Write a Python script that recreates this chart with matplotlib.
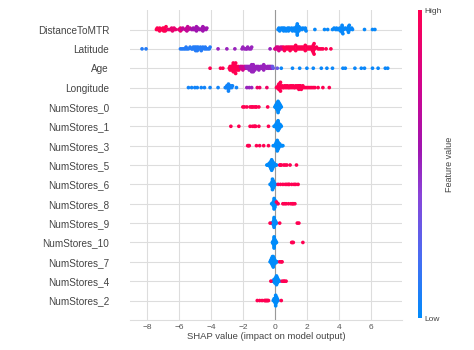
import numpy as np
import matplotlib
matplotlib.use("Agg")
import matplotlib.pyplot as plt
from matplotlib.colors import LinearSegmentedColormap

plt.rcParams["font.family"] = ["Liberation Sans", "DejaVu Sans"]

# feature order, top to bottom
FEATURES = [
    "DistanceToMTR", "Latitude", "Age", "Longitude",
    "NumStores_0", "NumStores_1", "NumStores_3", "NumStores_5",
    "NumStores_6", "NumStores_8", "NumStores_9", "NumStores_10",
    "NumStores_7", "NumStores_4", "NumStores_2",
]

# continuous features: groups of (feature value 0..1, shap values)
DIST_GROUPS = [
    (1.0, [-7.4, -7.35, -7.3, -7.2, -7.2, -7.1, -7.05, -7.0, -6.95, -6.9, -6.9, -6.85, -6.8]),
    (0.88, [-6.7, -6.6, -6.5, -6.45, -6.4, -6.3, -6.3, -6.2, -6.0, -5.95, -5.9, -5.9]),
    (0.7, [-5.8, -5.75, -5.6, -5.55, -5.5, -5.5, -5.45, -5.4, -5.3]),
    (0.55, [-5.2, -5.1, -5.1, -5.0, -4.95, -4.9, -4.9, -4.85, -4.8, -4.7, -4.6, -4.55,
            -4.5, -4.5, -4.45, -4.4, -4.3, -4.25]),
    (0.02, [0.2, 0.25, 0.3, 0.35, 0.4, 0.45, 0.5, 0.55, 0.6, 0.6, 0.7, 0.75, 0.8, 0.85, 0.9,
            0.9, 1.0, 1.05, 1.1, 1.15, 1.2, 1.25, 1.3, 1.3, 1.35, 1.35, 1.4, 1.4, 1.4, 1.4,
            1.4, 1.45, 1.45, 1.5, 1.5, 1.55, 1.6, 1.7, 1.75, 1.9, 1.9, 1.95, 2.5, 3.1, 3.3,
            3.6, 3.7, 3.8, 3.85, 3.9, 4.0, 4.05, 4.1, 4.15, 4.2, 4.2, 4.2, 4.2, 4.2, 4.25,
            4.3, 4.4, 4.5, 4.55, 4.6, 4.6, 4.6, 4.6, 4.65, 4.7, 4.8, 4.85, 5.6, 6.1, 6.25]),
]

LAT_GROUPS = [
    (0.1, [-8.3, -8.05, -5.9, -5.8, -5.7, -5.6, -5.55, -5.5, -5.4, -5.3, -5.2, -5.15,
           -5.1, -5.05, -5.0, -4.95, -4.9, -4.9, -4.85, -4.8, -4.8, -4.7, -4.65, -4.6,
           -4.55, -4.5, -4.4, -4.35, -4.3, -4.2, -4.1, -4.05]),
    (0.5, [-3.55, -3.0, -2.5, -2.05, -2.0, -1.9, -1.8, -1.75, -1.7, -1.6, -1.5, -1.45, -0.3]),
    (0.8, [0.0, 0.05, 0.1, 0.15, 0.2, 0.25, 0.3, 0.35, 0.4, 0.45, 0.5]),
    (1.0, [0.55, 0.6, 0.65, 0.7, 0.75, 0.8, 0.85, 0.9, 0.95, 1.0, 1.0, 1.1, 1.1, 1.2, 1.2,
           1.3, 1.3, 1.4, 1.4, 1.5, 1.5, 1.6, 1.6, 1.7, 1.7, 1.8, 1.8, 1.9, 1.9, 2.0, 2.0,
           2.1, 2.1, 2.2, 2.2, 2.3, 2.3, 2.35, 2.4, 2.4, 2.4, 2.4, 2.4, 2.45, 2.45, 2.5,
           2.6, 2.7, 2.8, 2.9, 3.0, 3.2, 3.5]),
]

AGE_GROUPS = [
    (1.0, [-4.05, -3.4, -3.25, -2.85, -2.8, -2.8, -2.75, -2.7, -2.7, -2.65, -2.65, -2.6,
           -2.6, -2.6, -2.6, -2.55, -2.55, -2.5, -2.5, -2.5, -2.45, -2.45, -2.4, -2.4,
           -2.35, -2.3, -2.3, -2.25, -2.2]),
    (0.75, [-2.15, -2.1, -2.05, -2.0, -1.95, -1.9, -1.85]),
    (0.5, [-1.8, -1.75, -1.7, -1.65, -1.6, -1.6, -1.55, -1.5, -1.5, -1.45, -1.45, -1.4,
           -1.4, -1.4, -1.35, -1.35, -1.3, -1.3, -1.25, -1.2, -1.15, -1.1, -1.05, -1.0,
           -0.95, -0.9, -0.85, -0.8, -0.75, -0.75, -0.7, -0.7, -0.65, -0.6, -0.5, -0.45,
           -0.4, -0.35, -0.3, -0.25, -0.2]),
    (0.3, [-0.15, -0.1, 0.15]),
    (0.03, [0.4, 1.1, 1.55, 2.0, 2.4, 2.9, 3.25, 3.6, 4.25, 4.4, 5.0, 5.4, 5.6, 6.1, 6.45,
            6.9, 7.05]),
]

LON_GROUPS = [
    (0.05, [-5.4, -5.2, -5.0, -4.85, -4.6, -4.4, -4.05, -3.55, -3.1, -3.05, -3.0, -2.95,
            -2.95, -2.9, -2.9, -2.9, -2.85, -2.85, -2.8, -2.75, -2.7, -2.65, -2.4]),
    (0.5, [-1.75, -1.6, -1.45]),
    (0.92, [-1.1, -0.95, -0.5]),
    (1.0, [0.1, 0.15, 0.2, 0.2, 0.25, 0.25, 0.3, 0.3, 0.3, 0.3, 0.35, 0.35, 0.4, 0.45, 0.5,
           0.55, 0.6, 0.65, 0.7, 0.75, 0.8, 0.85, 0.9, 0.95, 1.0, 1.05, 1.1, 1.15, 1.2,
           1.25, 1.3, 1.35, 1.4, 1.45, 1.5, 1.5, 1.55, 1.55, 1.6, 1.6, 1.65, 1.7, 1.75,
           1.8, 1.9, 2.0, 2.1, 2.2, 2.3, 2.4, 2.5, 2.7, 3.0, 3.4]),
]

# one-hot features: shap values for rows where the flag is 0 (low) and 1 (high)
NUMSTORES_LOW = {
    "NumStores_0": [0.0, 0.05, 0.05, 0.1, 0.1, 0.1, 0.1, 0.15, 0.15, 0.15, 0.15, 0.15, 0.15,
                    0.2, 0.2, 0.2, 0.2, 0.2, 0.2, 0.2, 0.2, 0.2, 0.25, 0.25, 0.25, 0.25,
                    0.25, 0.25, 0.3, 0.3, 0.3, 0.3, 0.35, 0.35, 0.4],
    "NumStores_1": [-0.05, 0.0, 0.05, 0.05, 0.1, 0.1, 0.1, 0.1, 0.15, 0.15, 0.15, 0.15, 0.15,
                    0.15, 0.2, 0.2, 0.2, 0.2, 0.2, 0.2, 0.2, 0.2, 0.25, 0.25, 0.25, 0.25,
                    0.25, 0.3, 0.3, 0.3, 0.35, 0.35, 0.4],
    "NumStores_3": [-0.1, 0.0, 0.05, 0.05, 0.1, 0.1, 0.1, 0.1, 0.15, 0.15, 0.15, 0.15, 0.15,
                    0.15, 0.15, 0.2, 0.2, 0.2, 0.2, 0.2, 0.25, 0.25, 0.25, 0.3, 0.3, 0.35,
                    0.4, 0.45, 0.5],
    "NumStores_5": [-0.5, -0.45, -0.4, -0.35, -0.35, -0.3, -0.3, -0.3, -0.25, -0.25, -0.25,
                    -0.25, -0.25, -0.2, -0.2, -0.2, -0.2, -0.2, -0.2, -0.2, -0.15, -0.15,
                    -0.15, -0.15, -0.15, -0.1, -0.1, -0.1, -0.05, -0.05, 0.0, 0.05, 0.1],
    "NumStores_6": [-0.3, -0.25, -0.2, -0.2, -0.2, -0.15, -0.15, -0.15, -0.15, -0.15, -0.15,
                    -0.15, -0.1, -0.1, -0.1, -0.1, -0.1, -0.05, -0.05, -0.05, 0.0, 0.05],
    "NumStores_8": [-0.2, -0.15, -0.1, -0.1, -0.1, -0.05, -0.05, -0.05, -0.05, -0.05, -0.05,
                    -0.05, 0.0, 0.0, 0.0, 0.0, 0.0, 0.05, 0.05, 0.1],
    "NumStores_9": [-0.2, -0.15, -0.1, -0.1, -0.1, -0.05, -0.05, -0.05, -0.05, -0.05,
                    -0.05, -0.05, -0.05, 0.0, 0.0, 0.0, 0.0, 0.05, 0.05, 0.1],
    "NumStores_10": [-0.15, -0.1, -0.1, -0.1, -0.05, -0.05, -0.05, -0.05, -0.05, -0.05,
                     -0.05, -0.05, -0.05, 0.0, 0.0, 0.0, 0.0, 0.05, 0.05, 0.1],
    "NumStores_7": [-0.3, -0.25, -0.25, -0.2, -0.2, -0.2, -0.2, -0.15, -0.15, -0.15, -0.15,
                    -0.15, -0.15, -0.1, -0.1, -0.1, -0.1, -0.1, -0.1, -0.1, -0.05, -0.05,
                    -0.05, -0.05, 0.0, 0.0, 0.0, 0.05, 0.1, 0.15],
    "NumStores_4": [-0.15, -0.1, -0.05, -0.05, 0.0, 0.0, 0.0, 0.05, 0.05, 0.05, 0.05, 0.1,
                    0.1, 0.1, 0.1, 0.1, 0.1, 0.15, 0.15, 0.15, 0.15, 0.2, 0.2, 0.25, 0.3],
    "NumStores_2": [-0.1, -0.05, -0.05, 0.0, 0.0, 0.0, 0.05, 0.05, 0.05, 0.05, 0.05, 0.05,
                    0.05, 0.1, 0.1, 0.1, 0.1, 0.15, 0.15, 0.2],
}
NUMSTORES_HIGH = {
    "NumStores_0": [-2.0, -1.9, -1.75, -1.55, -1.45, -1.4, -1.3, -1.2, -1.15, -1.0, -0.45],
    "NumStores_1": [-2.75, -2.25, -1.55, -1.4, -1.3, -1.25, -1.2, -1.0, -0.4],
    "NumStores_3": [-1.7, -1.65, -1.6, -1.15, -0.95, -0.7, -0.4],
    "NumStores_5": [0.3, 0.35, 0.4, 0.55, 0.65, 0.75, 0.95, 1.35],
    "NumStores_6": [0.2, 0.35, 0.5, 0.65, 0.75, 0.85, 0.9, 1.05, 1.2, 1.3, 1.45],
    "NumStores_8": [0.1, 0.2, 0.5, 0.6, 0.7, 0.85, 1.0, 1.1, 1.15, 1.25],
    "NumStores_9": [-0.3, 0.3, 1.4, 1.5],
    "NumStores_10": [1.05, 1.1, 1.15, 1.75],
    "NumStores_7": [0.3, 0.4, 0.45],
    "NumStores_4": [-0.25, 0.45, 0.55, 0.6, 0.7],
    "NumStores_2": [-1.1, -0.95, -0.8, -0.65, -0.6, -0.55, -0.5, -0.45, -0.4, 0.4],
}

CONTINUOUS = {
    "DistanceToMTR": DIST_GROUPS,
    "Latitude": LAT_GROUPS,
    "Age": AGE_GROUPS,
    "Longitude": LON_GROUPS,
}

CMAP = LinearSegmentedColormap.from_list("red_blue", [
    (0.0, "#008bfb"), (0.2, "#4a6cf2"), (0.4, "#8a44d8"), (0.55, "#a014b0"),
    (0.75, "#d0048f"), (1.0, "#ff0052")])


def beeswarm_offsets(shaps, row_height=0.4, nbins=100):
    shaps = np.asarray(shaps, dtype=float)
    quant = np.round(nbins * (shaps - shaps.min()) / (shaps.max() - shaps.min() + 1e-8))
    inds = np.argsort(quant, kind="mergesort")
    layer = 0
    last_bin = -1
    ys = np.zeros(len(shaps))
    for ind in inds:
        if quant[ind] != last_bin:
            layer = 0
        ys[ind] = np.ceil(layer / 2) * ((layer % 2) * 2 - 1)
        layer += 1
        last_bin = quant[ind]
    ys *= 0.9 * (row_height / np.max(ys + 1))
    return ys


def row_data(name):
    shaps, fvals = [], []
    if name in CONTINUOUS:
        for fv, vals in CONTINUOUS[name]:
            shaps += vals
            fvals += [fv] * len(vals)
    else:
        low = NUMSTORES_LOW[name]
        high = NUMSTORES_HIGH[name]
        shaps = low + high
        fvals = [0.0] * len(low) + [1.0] * len(high)
    return np.array(shaps), np.array(fvals)


def main():
    fig = plt.figure(figsize=(4.74, 3.5), dpi=100)
    ax = fig.add_axes([0.274, 0.086, 0.574, 0.885])
    n = len(FEATURES)

    for i, name in enumerate(FEATURES):
        pos = n - 1 - i
        ax.axhline(pos, color="#dddddd", lw=0.8, zorder=-1)
        shaps, fvals = row_data(name)
        ys = beeswarm_offsets(shaps)
        ax.scatter(shaps, pos + ys, c=fvals, cmap=CMAP, vmin=0, vmax=1,
                   s=7, linewidth=0, zorder=3)

    ax.axvline(0, color="#999999", lw=0.8, zorder=2)
    ax.set_xlim(-9.06, 7.94)
    ax.set_ylim(-1, n)
    ax.set_xticks([-8, -6, -4, -2, 0, 2, 4, 6])
    ax.xaxis.grid(True, color="#dddddd", lw=0.8)
    ax.set_axisbelow(True)
    ax.set_yticks(range(n))
    ax.set_yticklabels(FEATURES[::-1], fontsize=7.2, color="#444444")
    ax.tick_params(axis="y", length=0, pad=15)
    ax.tick_params(axis="x", length=0, labelsize=6, labelcolor="#555555", pad=3)
    ax.set_xlabel("SHAP value (impact on model output)", fontsize=6.8, color="#444444", labelpad=1)
    for side in ("top", "right", "left"):
        ax.spines[side].set_visible(False)
    ax.spines["bottom"].set_color("#dddddd")

    cax = fig.add_axes([0.882, 0.091, 0.0085, 0.88])
    sm = plt.cm.ScalarMappable(cmap=CMAP)
    sm.set_array([0, 1])
    cb = fig.colorbar(sm, cax=cax, ticks=[0, 1])
    cb.set_ticklabels(["Low", "High"])
    cb.outline.set_visible(False)
    cax.tick_params(length=0, labelsize=6, labelcolor="#444444", pad=2)
    cb.set_label("Feature value", fontsize=6.5, color="#444444", labelpad=2)

    fig.savefig("out.png", dpi=100)
    plt.close(fig)


if __name__ == "__main__":
    main()
